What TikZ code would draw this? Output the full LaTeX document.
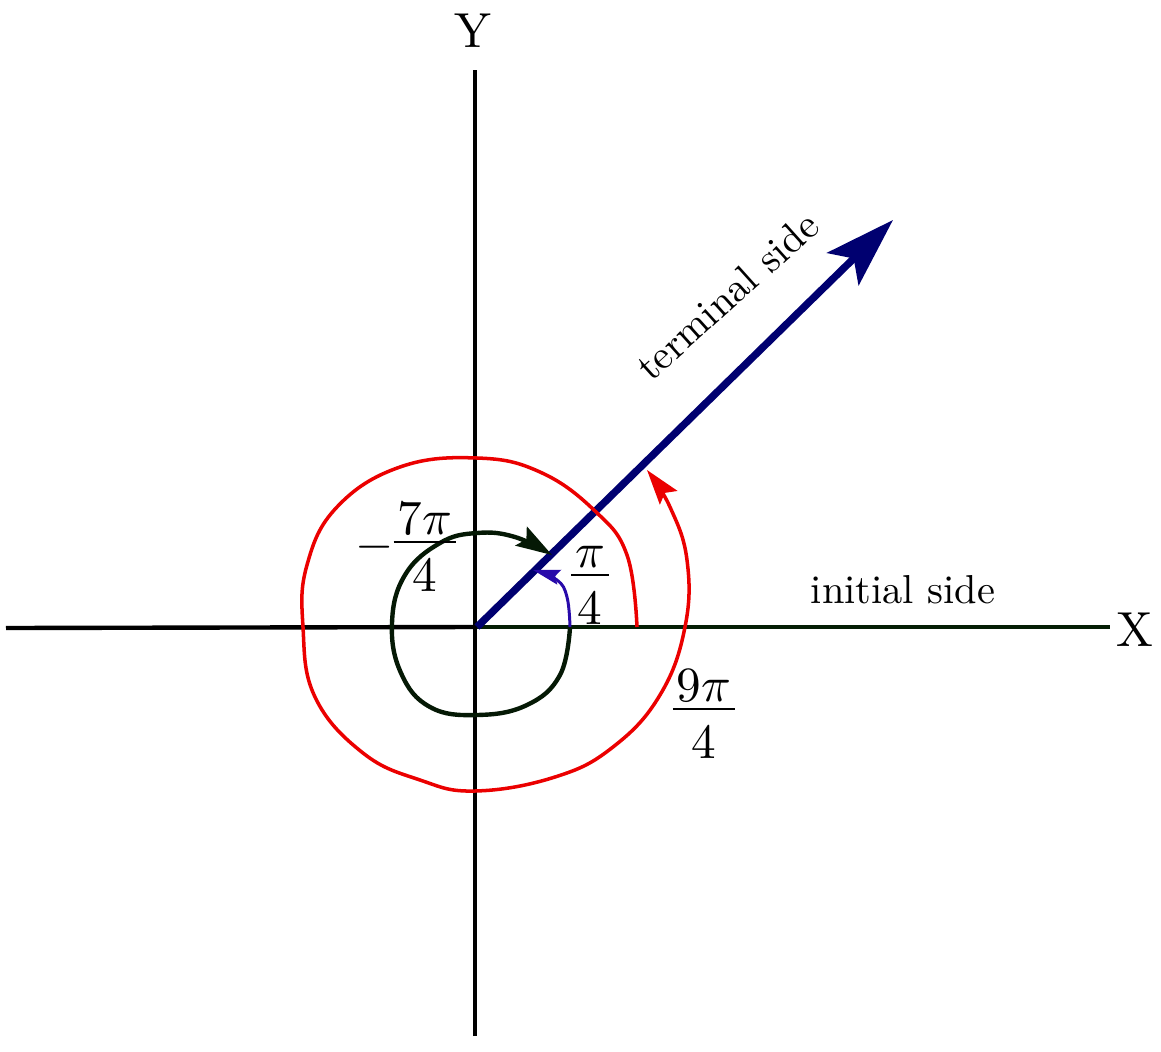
\documentclass[tikz,border=0pt]{standalone}
\usetikzlibrary{arrows.meta}
\definecolor{termblue}{RGB}{0,0,112}
\definecolor{arcblue}{RGB}{40,10,170}
\definecolor{spiralred}{RGB}{235,0,0}
\definecolor{darkcurve}{RGB}{5,25,5}
\definecolor{initgreen}{RGB}{5,30,5}
\newcommand{\fr}[2]{\vcenter{\offinterlineskip\halign{\hfil\kern0.08em##\kern0.08em\hfil\cr$\vphantom{0}#1$\cr\noalign{\kern0.14em\hrule height0.04em\kern0.33em}$#2$\cr}}}
\tikzset{
  axisline/.style={line width=2.5pt, black},
  initline/.style={line width=2.5pt, initgreen},
  termline/.style={line width=4.2pt, termblue, -{Stealth[length=1.4cm,width=0.9cm,inset=0.3cm]}},
  redspiral/.style={line width=2pt, spiralred, -{Stealth[length=0.7cm,width=0.44cm,inset=0.12cm]}},
  blackcurve/.style={line width=2.5pt, darkcurve, -{Stealth[length=0.72cm,width=0.44cm,inset=0.12cm]}},
  bluearc/.style={line width=1.7pt, arcblue, -{Stealth[length=0.54cm,width=0.3cm,inset=0.08cm]}},
  biglabel/.style={inner sep=0pt, scale=2.8},
  sidelabel/.style={inner sep=0pt, scale=2.3},
}
\begin{document}
\begin{tikzpicture}[x=0.02cm,y=-0.02cm]
\useasboundingbox (0,0) rectangle (1161,1052);
% axes
\coordinate (O) at (477,627);
\coordinate (xl) at (6,628);
\coordinate (xr) at (1110,627);
\coordinate (yt) at (475,70);
\coordinate (yb) at (475,1036);
\draw[axisline] (xl) -- (O);
\draw[initline] (O) -- (xr);
\draw[axisline] (yb) -- (yt);
% terminal side
\coordinate (T) at (893,220);
\draw[termline] (O) -- (T);
% red spiral 9pi/4
\draw[redspiral] plot[smooth, tension=0.7] coordinates {
 (637,627) (627,555) (595,511) (540,472) (477,458) (400,467) (337,507) (307,565)
 (303,627) (315,697) (363,753) (420,780) (475,791) (555,777) (613,747) (660,695)
 (685,627) (687,560) (670,507) (647,470)};
% black curve -7pi/4
\draw[blackcurve] plot[smooth, tension=0.7] coordinates {
 (570,627) (560,675) (527,705) (477,715) (430,707) (401,673) (392,623) (405,575)
 (440,543) (477,533) (515,537) (552,555)};
% blue arc pi/4
\draw[bluearc] plot[smooth, tension=0.7] coordinates {(570,627) (567,597) (557,580) (533,570)};
% labels
\node[biglabel] (ylab) at (473,31) {Y};
\node[biglabel] (xlab) at (1135,630) {X};
\node[sidelabel, anchor=base] (init) at (903,603) {initial side};
\node[inner sep=0pt, scale=2.3, rotate=42] (term) at (727,296) {terminal side};
\node[biglabel] (piq) at (590,580) {$\fr{\pi}{4}$};
\node[biglabel] (ninepi) at (704,714) {$\fr{9\pi}{4}$};
\node[biglabel, anchor=east] (sevenpi) at (457,547) {$-\fr{7\pi}{4}$};
\end{tikzpicture}
\end{document}
